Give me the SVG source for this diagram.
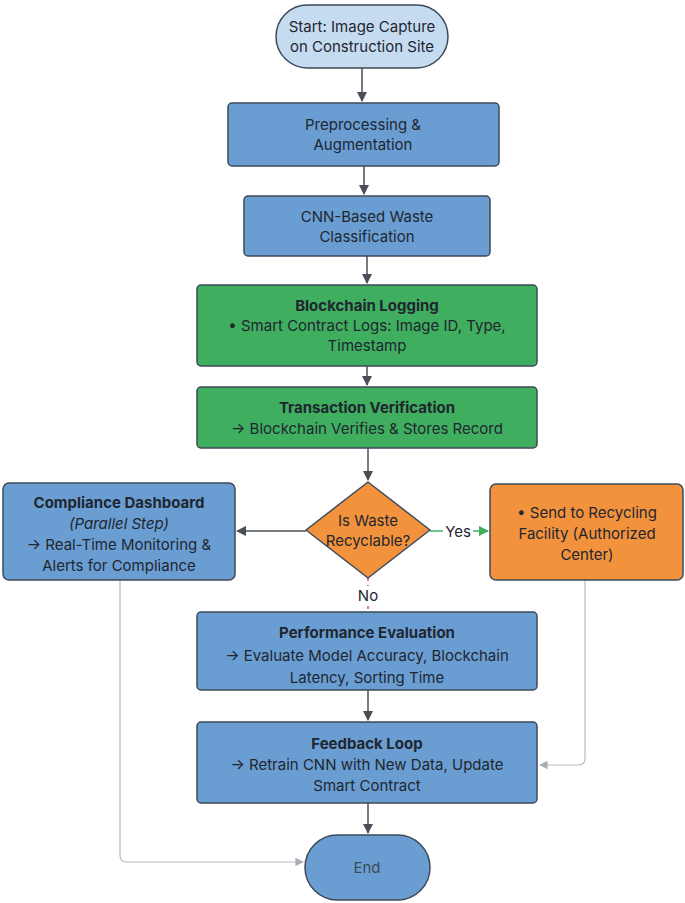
<svg xmlns="http://www.w3.org/2000/svg" width="685" height="903" viewBox="0 0 685 903">
<defs>
<marker id="a" viewBox="0 0 10 10" refX="9" refY="5" markerWidth="7" markerHeight="7" orient="auto"><path d="M0,0L10,5L0,10z" fill="#4a4f57"/></marker>
<marker id="ag" viewBox="0 0 10 10" refX="9" refY="5" markerWidth="7" markerHeight="7" orient="auto"><path d="M0,0L10,5L0,10z" fill="#3fae5f"/></marker>
<marker id="al" viewBox="0 0 10 10" refX="9" refY="5" markerWidth="7" markerHeight="7" orient="auto"><path d="M0,0L10,5L0,10z" fill="#a8adb3"/></marker>
</defs>
<style>
text{font-family:Inter,"Liberation Sans",sans-serif;font-size:15px;fill:#1f2630;text-anchor:middle}
.b{font-weight:bold}
.i{font-style:italic}
.blue{fill:#6a9ed2;stroke:#3d4a5a;stroke-width:1.5}
.green{fill:#3fae5f;stroke:#3d4a5a;stroke-width:1.5}
.orange{fill:#f2923d;stroke:#3d4a5a;stroke-width:1.5}
.c{fill:none;stroke:#4a4f57;stroke-width:1.5}
.l{fill:none;stroke:#b8bcc2;stroke-width:1.2}
</style>
<rect width="685" height="903" fill="#fff"/>
<g id="connectors">
<path class="c" d="M362 68V101" marker-end="url(#a)"/>
<path class="c" d="M364 166V194" marker-end="url(#a)"/>
<path class="c" d="M367 256V283" marker-end="url(#a)"/>
<path class="c" d="M367 366V385" marker-end="url(#a)"/>
<path class="c" d="M368 448V480" marker-end="url(#a)"/>
<path class="c" d="M306 531H237" marker-end="url(#a)"/>
<path d="M430 531H488" fill="none" stroke="#3fae5f" stroke-width="1.5" marker-end="url(#ag)"/>
<path d="M368 578V612" fill="none" stroke="#e8505b" stroke-width="1.5" stroke-dasharray="3 4"/>
<path class="c" d="M368 690V720" marker-end="url(#a)"/>
<path class="c" d="M368 803V833" marker-end="url(#a)"/>
<path class="l" d="M585 580V758Q585 765 578 765H540" marker-end="url(#al)"/>
<path class="l" d="M120 580V855Q120 862 127 862H303" marker-end="url(#al)"/>
<rect x="443" y="521" width="30" height="20" fill="#fff"/>
<text x="458" y="537">Yes</text>
<rect x="354" y="586" width="28" height="18" fill="#fff"/>
<text x="368" y="601">No</text>
</g>
<g id="start"><rect x="276" y="5" width="172" height="63" rx="31.5" fill="#c5dcf0" stroke="#3d4a5a" stroke-width="1.5"/><text x="362" y="32">Start: Image Capture</text><text x="362" y="52">on Construction Site</text></g>
<g id="preprocessing"><rect class="blue" x="228" y="103" width="271" height="63" rx="4"/><text x="363" y="130">Preprocessing &amp;</text><text x="363" y="150">Augmentation</text></g>
<g id="cnn"><rect class="blue" x="244" y="196" width="246" height="60" rx="4"/><text x="367" y="222">CNN-Based Waste</text><text x="367" y="242">Classification</text></g>
<g id="blockchain"><rect class="green" x="197" y="285" width="340" height="81" rx="4"/><text class="b" x="367" y="311">Blockchain Logging</text><text x="367" y="331">• Smart Contract Logs: Image ID, Type,</text><text x="367" y="351">Timestamp</text></g>
<g id="verification"><rect class="green" x="197" y="387" width="340" height="61" rx="4"/><text class="b" x="367" y="413">Transaction Verification</text><text x="367" y="434">→ Blockchain Verifies &amp; Stores Record</text></g>
<g id="decision"><path class="orange" d="M368 482L430 530L368 578L306 530Z" stroke-linejoin="round"/><text x="368" y="526">Is Waste</text><text x="368" y="546">Recyclable?</text></g>
<g id="dashboard"><rect class="blue" x="3" y="483" width="232" height="97" rx="6"/><text class="b" x="119" y="508">Compliance Dashboard</text><text class="i" x="119" y="529">(Parallel Step)</text><text x="119" y="550">→ Real-Time Monitoring &amp;</text><text x="119" y="571">Alerts for Compliance</text></g>
<g id="recycling"><rect class="orange" x="490" y="484" width="193" height="96" rx="6"/><text x="587" y="518">• Send to Recycling</text><text x="587" y="539">Facility (Authorized</text><text x="587" y="560">Center)</text></g>
<g id="performance"><rect class="blue" x="197" y="612" width="340" height="78" rx="4"/><text class="b" x="367" y="638">Performance Evaluation</text><text x="367" y="661">→ Evaluate Model Accuracy, Blockchain</text><text x="367" y="683">Latency, Sorting Time</text></g>
<g id="feedback"><rect class="blue" x="197" y="722" width="340" height="81" rx="4"/><text class="b" x="367" y="749">Feedback Loop</text><text x="367" y="770">→ Retrain CNN with New Data, Update</text><text x="367" y="791">Smart Contract</text></g>
<g id="end"><rect class="blue" x="305" y="835" width="125" height="65" rx="32.5"/><text x="367" y="873" style="fill:#3d4a5a">End</text></g>
</svg>
